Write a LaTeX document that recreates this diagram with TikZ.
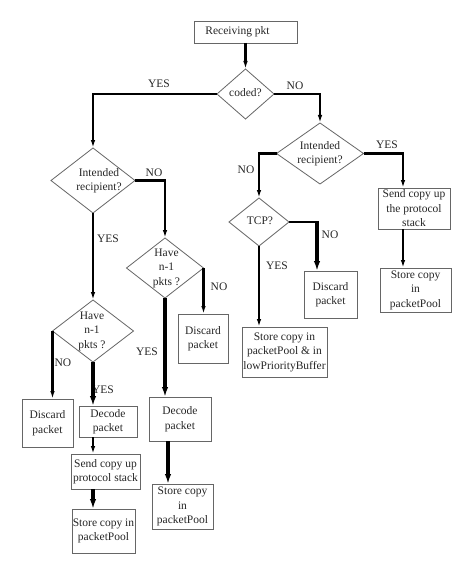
\documentclass[tikz,border=0pt]{standalone}
\usepackage{fontspec}
\setmainfont{Liberation Serif}
\usetikzlibrary{arrows.meta,shapes.geometric,calc}
\newcommand\dtxt[2]{\smash{\makebox[0pt]{\hspace*{#1}\raisebox{-3pt}{\begin{tabular}{@{}c@{}}#2\end{tabular}}}}}
\begin{document}
\begin{tikzpicture}[x=1pt,y=-1pt,
  every node/.style={font=\fontsize{11.5}{14.5}\selectfont, text=black!85},
  box/.style={draw=black!60, line width=0.8pt, rectangle, inner sep=0pt, outer sep=0pt, align=center},
  dia/.style={draw=black!60, line width=0.8pt, diamond, inner sep=0pt, outer sep=0pt},
  conn/.style={line width=2.2pt, -{Latex[length=8pt,width=4.5pt]}},
  heavy/.style={line width=3.8pt, -{Latex[length=10pt,width=6.5pt]}},
  lbl/.style={inner sep=0pt}]
\useasboundingbox (0,0) rectangle (474,575);
\fill[white] (0,0) rectangle (474,575);

% boxes
\node[box, minimum width=103pt, minimum height=22pt] (recv) at (245.5,32) {Receiving pkt\hspace*{16pt}};
\node[box, minimum width=50pt, minimum height=49pt] (disc2) at (203,338.5) {Discard\\packet};
\node[box, minimum width=51pt, minimum height=48pt] (disc1) at (47.5,423) {Discard\\packet};
\node[box, minimum width=58pt, minimum height=31pt] (dec1) at (108,421.5) {Decode\\packet};
\node[box, minimum width=69pt, minimum height=35pt] (send1) at (105.5,471.5) {Send copy up\\protocol stack};
\node[box, minimum width=63pt, minimum height=44pt] (store1) at (103.5,531) {Store copy in\\packetPool};
\node[box, minimum width=62pt, minimum height=44pt] (dec2) at (180,419) {Decode\\packet};
\node[box, minimum width=61pt, minimum height=45pt] (store2) at (182.5,506.5) {Store copy\\in\\packetPool};
\node[box, minimum width=53pt, minimum height=47pt] (discR) at (330.5,294.5) {Discard\\packet};
\node[box, minimum width=85pt, minimum height=50pt] (storeT) at (284.5,352) {Store copy in\\packetPool \& in\\lowPriorityBuffer};
\node[box, minimum width=72pt, minimum height=41pt] (sendR) at (414,208.5) {Send copy up\\the protocol\\stack};
\node[box, minimum width=71pt, minimum height=44pt] (storeR) at (415.5,290) {Store copy\\in\\packetPool};

% diamonds
\node[dia, minimum width=57pt, minimum height=50pt] (coded) at (245.5,94) {\dtxt{0pt}{coded?}};
\node[dia, minimum width=84pt, minimum height=65pt] (int1) at (93,180.5) {\dtxt{12pt}{Intended\\recipient?}};
\node[dia, minimum width=87pt, minimum height=61pt] (int2) at (320,153.5) {\dtxt{0pt}{Intended\\recipient?}};
\node[dia, minimum width=77pt, minimum height=60pt] (have2) at (165,268) {\dtxt{3pt}{Have\\n-1\\pkts ?}};
\node[dia, minimum width=81pt, minimum height=62pt] (have1) at (93,331) {\dtxt{-2pt}{Have\\n-1\\pkts ?}};
\node[dia, minimum width=60pt, minimum height=48pt] (tcp) at (259,222) {\dtxt{2pt}{TCP?}};

% labels
\node[lbl] (l1) at (159,84) {YES};
\node[lbl] (l2) at (295,86) {NO};
\node[lbl] (l3) at (154,173) {NO};
\node[lbl] (l4) at (108,239) {YES};
\node[lbl] (l5) at (219,287) {NO};
\node[lbl] (l6) at (147,352) {YES};
\node[lbl] (l7) at (63,363) {NO};
\node[lbl] (l8) at (103,390) {YES};
\node[lbl] (l9) at (246,170) {NO};
\node[lbl] (l10) at (387,145) {YES};
\node[lbl] (l11) at (330,235) {NO};
\node[lbl] (l12) at (277,266) {YES};

% helper columns
\coordinate (colR) at (403,0);
\coordinate (colM) at (168,0);
\coordinate (tcpNO) at (317,222);

% connectors
\draw[conn] (recv.south) -- (coded.north);
\draw[conn] (coded.west) -| (int1.north);
\draw[conn] (coded.east) -| (int2.north);
\draw[conn] (int1.east) -| (have2.north);
\draw[conn] (int1.south) -- (have1.north);
\draw[conn] (have2.east) -- (have2.east |- disc2.north);
\draw[heavy] (have2.south) -- (have2.south |- dec2.north);
\draw[heavy] (colM |- dec2.south) -- (colM |- store2.north);
\draw[conn] (have1.west) -- (have1.west |- disc1.north);
\draw[heavy] (have1.south) -- (have1.south |- dec1.north);
\draw[conn] (have1.south |- dec1.south) -- (have1.south |- send1.north);
\draw[heavy] (have1.south |- send1.south) -- (have1.south |- store1.north);
\draw[conn] (int2.west) -| (tcp.north);
\draw[conn] (int2.east) -| (colR |- sendR.north);
\draw[conn] (colR |- sendR.south) -- (colR |- storeR.north);
\draw[line width=2.2pt] (tcp.east) -- (tcpNO);
\draw[heavy] ($(tcpNO)+(0,-1.1)$) -- (tcpNO |- discR.north);
\draw[conn] (tcp.south) -- (tcp.south |- storeT.north);
\end{tikzpicture}
\end{document}
